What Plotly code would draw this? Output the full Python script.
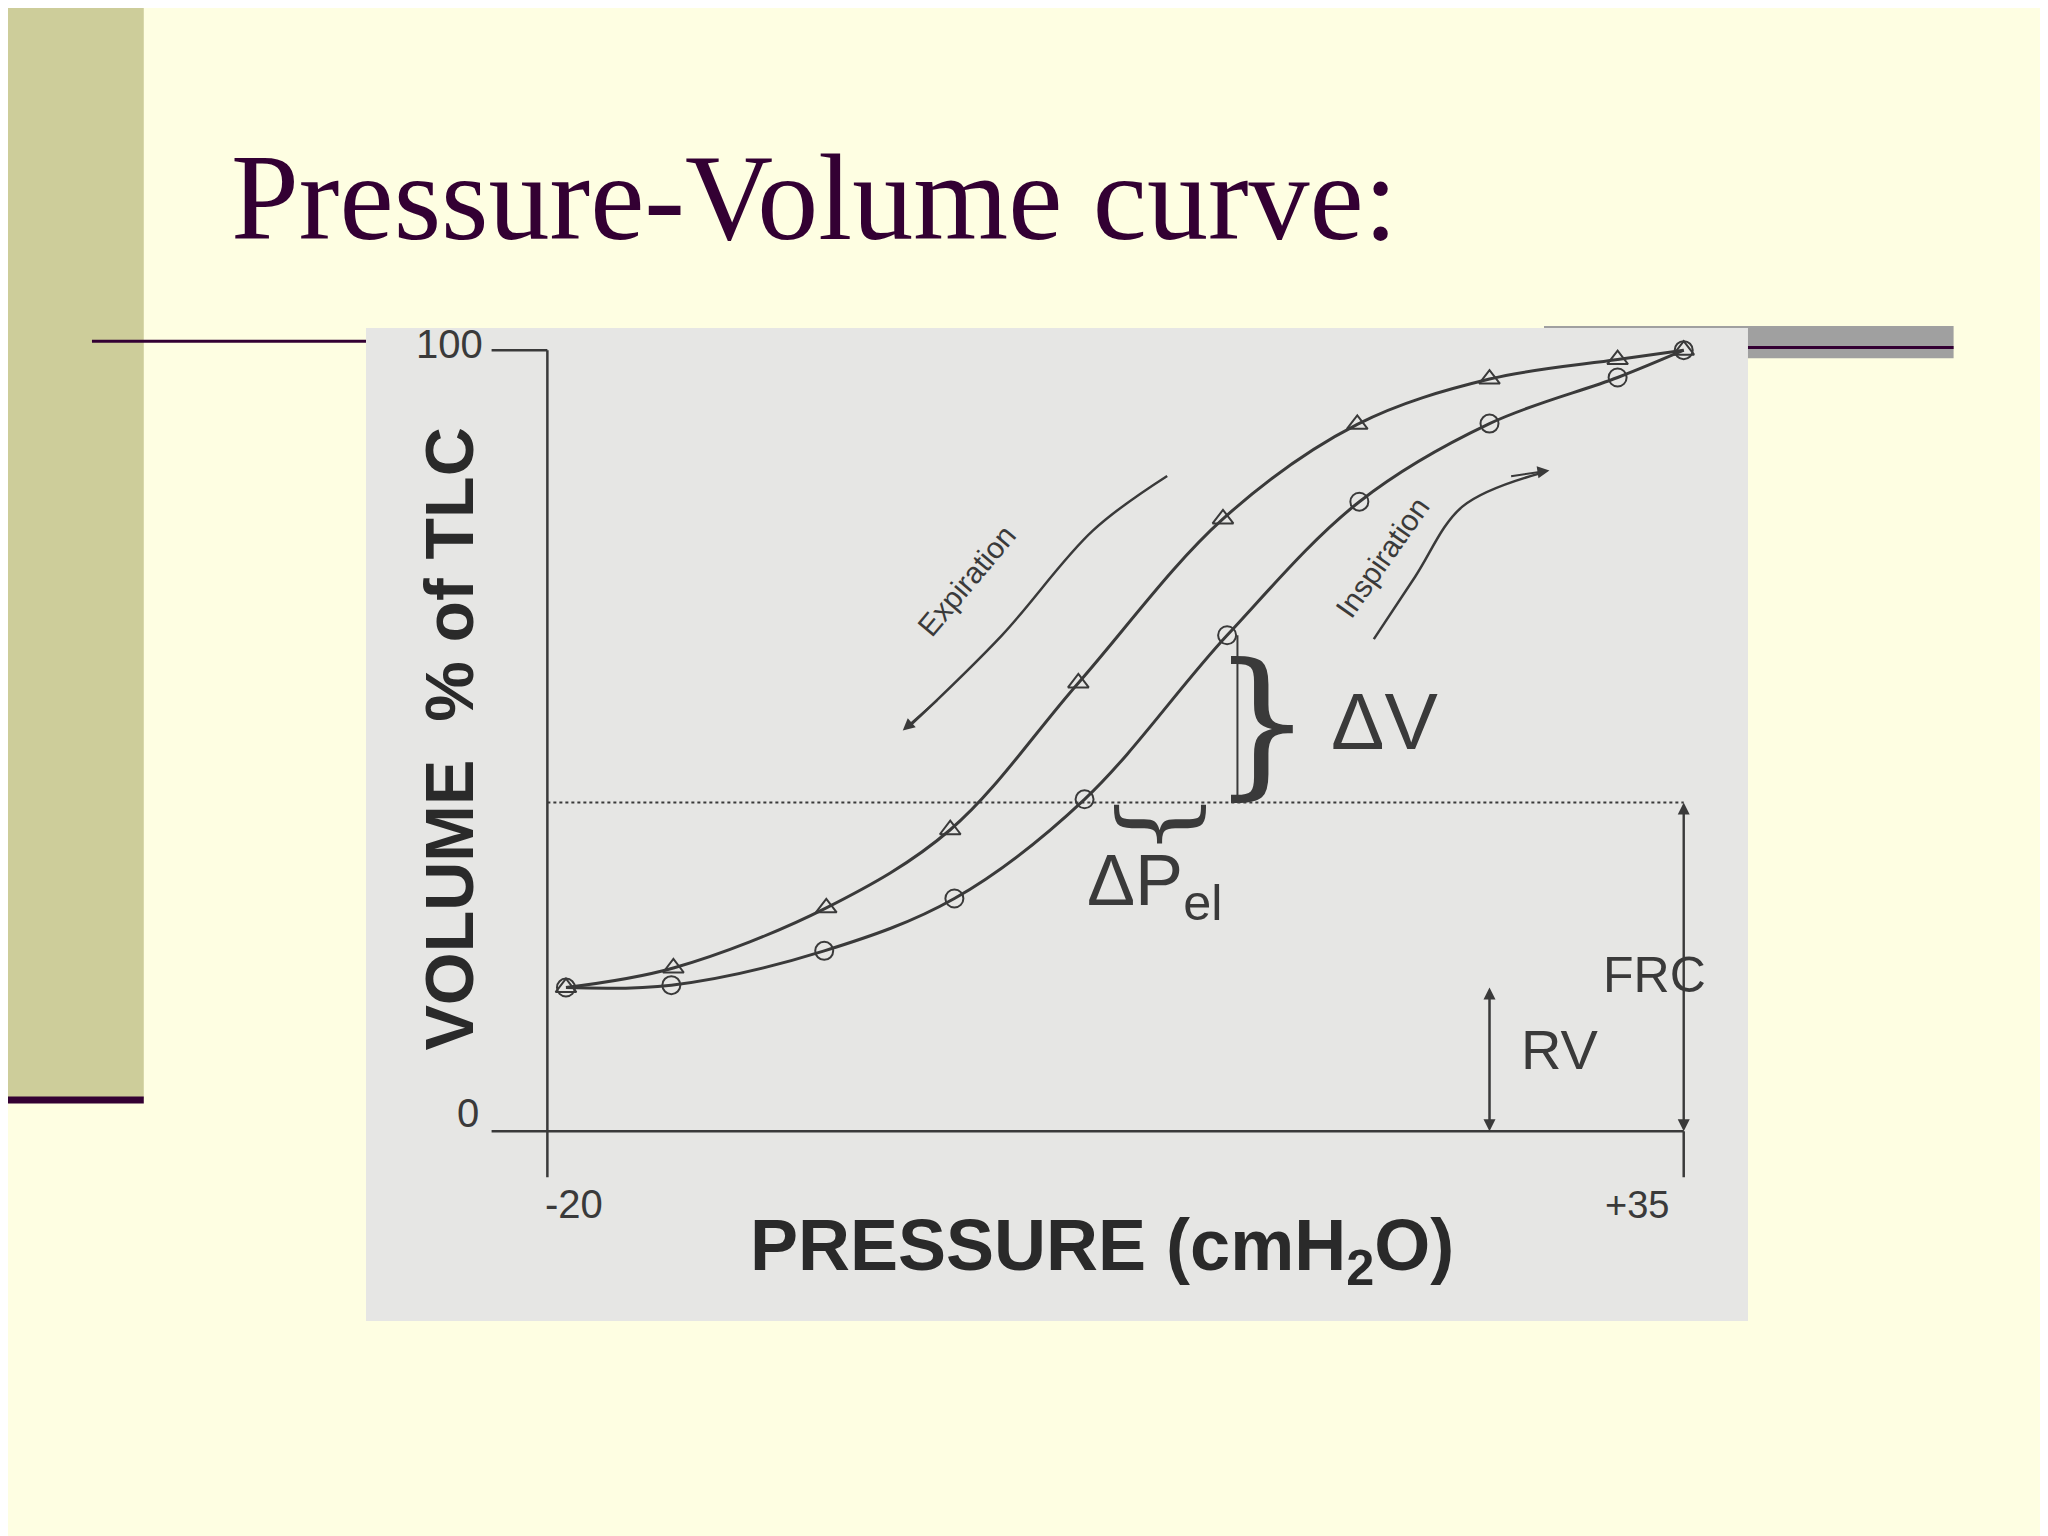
import plotly.graph_objects as go

# data (pressure cmH2O, volume % TLC)
exp_p = [-19.1, -13.9, -6.5, -0.5, 5.7, 12.7, 19.2, 25.6, 31.8, 35.0]
exp_v = [18.4, 20.9, 28.6, 38.6, 57.4, 78.4, 90.5, 96.3, 98.8, 100.0]
insp_p = [-19.1, -14.0, -6.6, -0.3, 6.0, 12.9, 19.3, 25.6, 31.8, 35.0]
insp_v = [18.4, 18.7, 23.1, 29.8, 42.5, 63.5, 80.6, 90.6, 96.5, 100.0]
frc_v = 42.1
rv_v = 18.4
tick_labels = ["100", "0", "-20", "+35"]

ink = "#3a3a3a"
fig = go.Figure()

fig.add_trace(go.Scatter(x=exp_p, y=exp_v, mode="lines+markers", line=dict(color=ink, width=3, shape="spline"),
                         marker=dict(symbol="triangle-up-open", size=18, color=ink, line=dict(width=2))))
fig.add_trace(go.Scatter(x=insp_p, y=insp_v, mode="lines+markers", line=dict(color=ink, width=3, shape="spline"),
                         marker=dict(symbol="circle-open", size=18, color=ink, line=dict(width=2))))
# curved arrows
fig.add_trace(go.Scatter(x=[10.0, 6.4, 2.0, -2.5], y=[83.9, 76.9, 63.5, 51.8], mode="lines",
                         line=dict(color=ink, width=2.5, shape="spline")))
fig.add_trace(go.Scatter(x=[20.0, 22.0, 24.3, 28.0], y=[63.0, 71.0, 80.0, 84.2], mode="lines",
                         line=dict(color=ink, width=2.5, shape="spline")))

shapes = [
    dict(type="rect", xref="paper", yref="paper", x0=0, x1=1, y0=0, y1=1, fillcolor="#fefee2", line_width=0, layer="below"),
    dict(type="rect", xref="paper", yref="paper", x0=0, x1=0.0663, y0=0.29, y1=1, fillcolor="#cdcd9a", line_width=0, layer="below"),
    dict(type="line", xref="paper", yref="paper", x0=0, x1=0.0663, y0=0.289, y1=0.289, line=dict(color="#330033", width=7), layer="below"),
    dict(type="line", xref="paper", yref="paper", x0=0.041, x1=0.18, y0=0.783, y1=0.783, line=dict(color="#330033", width=3), layer="below"),
    dict(type="rect", xref="paper", yref="paper", x0=0.75, x1=0.95, y0=0.772, y1=0.793, fillcolor="#a0a0a0", line_width=0, layer="below"),
    dict(type="line", xref="paper", yref="paper", x0=0.75, x1=0.95, y0=0.779, y1=0.779, line=dict(color="#330033", width=3), layer="below"),
    dict(type="rect", xref="paper", yref="paper", x0=0.1748, x1=0.8496, y0=0.1452, y1=0.7917, fillcolor="#e6e6e4", line_width=0, layer="below"),
    # axes
    dict(type="line", x0=-20, x1=-20, y0=-5.9, y1=100, line=dict(color=ink, width=2.5)),
    dict(type="line", x0=-22.7, x1=35, y0=0, y1=0, line=dict(color=ink, width=2.5)),
    dict(type="line", x0=-22.7, x1=-20, y0=100, y1=100, line=dict(color=ink, width=2.5)),
    dict(type="line", x0=35, x1=35, y0=-5.9, y1=0, line=dict(color=ink, width=2.5)),
    dict(type="line", x0=-20, x1=35, y0=frc_v, y1=frc_v, line=dict(color=ink, width=2, dash="dot")),
    dict(type="line", x0=13.4, x1=13.4, y0=frc_v, y1=63.5, line=dict(color=ink, width=2)),
]
fig.update_layout(shapes=shapes)

arr = dict(axref="x", ayref="y", showarrow=True, arrowhead=2, arrowsize=1.2, arrowwidth=2, arrowcolor=ink, text=" ")
ann = [
    dict(x=35, y=frc_v, ax=35, ay=0, **arr),
    dict(x=35, y=0, ax=35, ay=frc_v, **arr),
    dict(x=25.6, y=rv_v, ax=25.6, ay=0, **arr),
    dict(x=25.6, y=0, ax=25.6, ay=rv_v, **arr),
    dict(x=-2.8, y=51.3, ax=-1.0, ay=55.5, **arr),
    dict(x=28.5, y=84.6, ax=26.5, ay=83.8, **arr),
    dict(x=0.3, y=70.5, text="Expiration", textangle=-50, showarrow=False, font=dict(size=30, color=ink)),
    dict(x=20.4, y=73.5, text="Inspiration", textangle=-55, showarrow=False, font=dict(size=30, color=ink)),
    dict(x=14.6, y=52.5, text="}", showarrow=False, font=dict(size=160, color=ink, family="DejaVu Serif")),
    dict(x=20.5, y=52.5, text="ΔV", showarrow=False, font=dict(size=80, color=ink)),
    dict(x=9.9, y=39.3, text="}", textangle=90, showarrow=False, font=dict(size=100, color=ink, family="DejaVu Serif")),
    dict(x=9.4, y=31.5, text="ΔP<sub>el</sub>", showarrow=False, font=dict(size=72, color=ink)),
    dict(x=29.0, y=10.5, text="RV", showarrow=False, font=dict(size=56, color=ink)),
    dict(x=33.6, y=20.0, text="FRC", showarrow=False, font=dict(size=50, color=ink)),
    dict(x=0.233, y=0.797, xref="paper", yref="paper", xanchor="right", text=tick_labels[0], showarrow=False, font=dict(size=40, color=ink)),
    dict(x=0.231, y=0.265, xref="paper", yref="paper", xanchor="right", text=tick_labels[1], showarrow=False, font=dict(size=40, color=ink)),
    dict(x=0.261, y=0.206, xref="paper", yref="paper", text=tick_labels[2], showarrow=False, font=dict(size=40, color=ink)),
    dict(x=0.812, y=0.206, xref="paper", yref="paper", text=tick_labels[3], showarrow=False, font=dict(size=38, color=ink)),
    dict(x=0.196, y=0.524, xref="paper", yref="paper", text="<b>VOLUME  % of TLC</b>", textangle=-90, showarrow=False, font=dict(size=68, color="#2a2a2a")),
    dict(x=0.534, y=0.16, xref="paper", yref="paper", text="<b>PRESSURE (cmH<sub>2</sub>O)</b>", showarrow=False, font=dict(size=72, color="#2a2a2a")),
    dict(x=0.108, y=0.922, xref="paper", yref="paper", xanchor="left", text="Pressure-Volume curve:", showarrow=False,
         font=dict(size=122, color="#330033", family="Liberation Serif")),
]
fig.update_layout(annotations=ann)

fig.update_layout(
    width=2048, height=1536, margin=dict(l=0, r=0, t=0, b=0), showlegend=False,
    paper_bgcolor="#fefee2", plot_bgcolor="rgba(0,0,0,0)",
    font=dict(family="Liberation Sans"),
    xaxis=dict(range=[-23, 37], domain=[0.2331, 0.8384], visible=False),
    yaxis=dict(range=[-6, 102], domain=[0.2382, 0.7874], visible=False),
)
fig.write_html("out.html")
